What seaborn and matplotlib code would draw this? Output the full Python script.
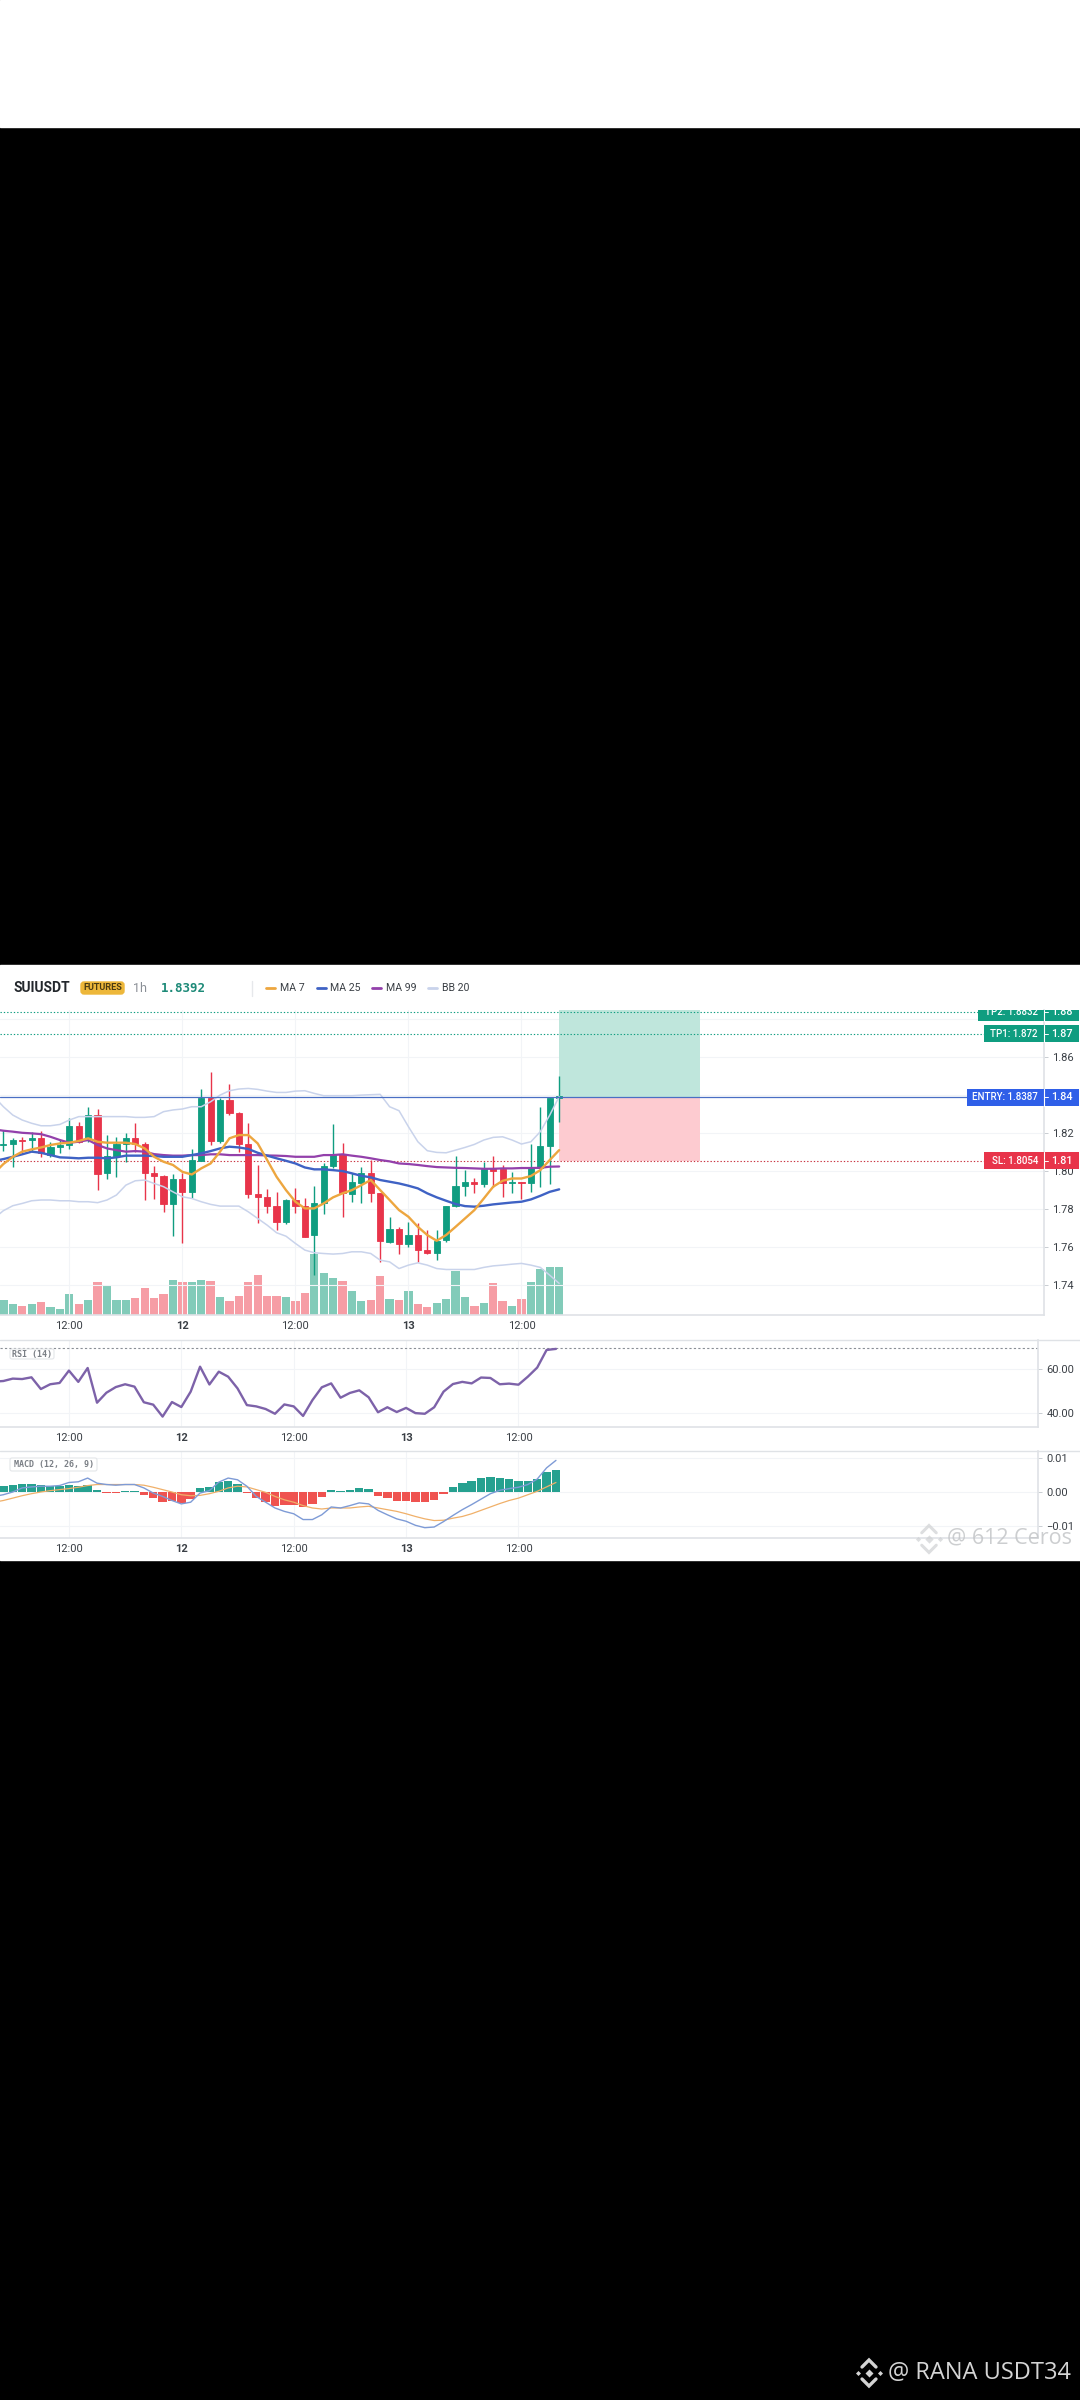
import numpy as np
import seaborn as sns
import matplotlib
matplotlib.use('Agg')
import matplotlib.pyplot as plt
from matplotlib.patches import Rectangle, FancyBboxPatch
from matplotlib.transforms import Bbox

# Values (hourly candles, SUIUSDT)
hours = np.arange(60)
line_hours = np.arange(-1, 60)

opens = [1.8134, 1.8141, 1.8162, 1.8160, 1.8171, 1.8083, 1.8123, 1.8134, 1.8237, 1.8171,
         1.8292, 1.7987, 1.8078, 1.8141, 1.8171, 1.8141, 1.7987, 1.7973, 1.7824, 1.7955,
         1.7890, 1.8053, 1.8383, 1.8157, 1.8372, 1.8306, 1.8141, 1.7876, 1.7864, 1.7815,
         1.7733, 1.7847, 1.7815, 1.7663, 1.7829, 1.8025, 1.8087, 1.7876, 1.7938, 1.7987,
         1.7882, 1.7628, 1.7696, 1.7614, 1.7663, 1.7584, 1.7571, 1.7636, 1.7815, 1.7920,
         1.7943, 1.7931, 1.8013, 1.8009, 1.7938, 1.7943, 1.7934, 1.8013, 1.8130, 1.8383]
closes = [1.8141, 1.8160, 1.8157, 1.8171, 1.8095, 1.8123, 1.8134, 1.8237, 1.8153, 1.8292,
          1.7983, 1.8080, 1.8141, 1.8171, 1.8141, 1.7987, 1.7973, 1.7824, 1.7955, 1.7889,
          1.8057, 1.8383, 1.8157, 1.8372, 1.8302, 1.8141, 1.7876, 1.7861, 1.7815, 1.7733,
          1.7847, 1.7815, 1.7654, 1.7829, 1.8027, 1.8087, 1.7882, 1.7939, 1.7987, 1.7882,
          1.7633, 1.7696, 1.7614, 1.7663, 1.7584, 1.7570, 1.7633, 1.7815, 1.7920, 1.7943,
          1.7931, 1.8009, 1.8001, 1.7938, 1.7943, 1.7934, 1.8013, 1.8130, 1.8381, 1.8395]
highs = [1.8214, 1.8171, 1.8179, 1.8206, 1.8211, 1.8153, 1.8162, 1.8276, 1.8255, 1.8337,
         1.8323, 1.8188, 1.8179, 1.8200, 1.8250, 1.8153, 1.8025, 1.7978, 1.7983, 1.7987,
         1.8115, 1.8428, 1.8521, 1.8381, 1.8456, 1.8311, 1.8253, 1.8031, 1.7903, 1.7887,
         1.7850, 1.7908, 1.7855, 1.7920, 1.8039, 1.8244, 1.8144, 1.7987, 1.8022, 1.8057,
         1.7882, 1.7759, 1.7706, 1.7733, 1.7724, 1.7689, 1.7689, 1.7815, 1.8078, 1.8004,
         1.7960, 1.8048, 1.8078, 1.8031, 1.7995, 1.7943, 1.8139, 1.8337, 1.8381, 1.8498]
lows = [1.8106, 1.8022, 1.8095, 1.8101, 1.8074, 1.8074, 1.8095, 1.8115, 1.8144, 1.8153,
        1.7899, 1.7957, 1.7966, 1.8045, 1.8101, 1.7847, 1.7850, 1.7785, 1.7659, 1.7619,
        1.7855, 1.8053, 1.8136, 1.8144, 1.8293, 1.8101, 1.7855, 1.7724, 1.7780, 1.7689,
        1.7719, 1.7780, 1.7654, 1.7452, 1.7773, 1.8013, 1.7759, 1.7838, 1.7829, 1.7838,
        1.7522, 1.7622, 1.7563, 1.7598, 1.7522, 1.7563, 1.7531, 1.7628, 1.7808, 1.7869,
        1.7882, 1.7913, 1.7917, 1.7861, 1.7885, 1.7850, 1.7890, 1.7917, 1.7929, 1.8258]
volume = [44, 34, 28, 33, 39, 25, 17, 64, 34, 45, 99, 88, 46, 46, 50, 80, 52, 63, 105, 99,
          99, 105, 102, 55, 41, 58, 99, 121, 58, 58, 55, 41, 66, 184, 126, 110, 101, 72, 41, 46,
          117, 49, 45, 72, 33, 24, 36, 49, 131, 55, 28, 36, 97, 42, 28, 49, 99, 137, 145, 143]

ma7 = [1.7987, 1.8036, 1.8074, 1.8101, 1.8113, 1.8123, 1.8136, 1.8144, 1.8148, 1.8157, 1.8171,
       1.8153, 1.8148, 1.8148, 1.8148, 1.8141, 1.8118, 1.8074, 1.8048, 1.8031, 1.7995,
       1.7981, 1.8013, 1.8039, 1.8101, 1.8171, 1.8188, 1.8188, 1.8144, 1.8057, 1.7969,
       1.7899, 1.7838, 1.7803, 1.7803, 1.7829, 1.7861, 1.7882, 1.7899, 1.7925, 1.7952,
       1.7899, 1.7847, 1.7794, 1.7759, 1.7706, 1.7663, 1.7633, 1.7663, 1.7706, 1.7750,
       1.7794, 1.7855, 1.7917, 1.7948, 1.7960, 1.7960, 1.7973, 1.8004, 1.8057, 1.8109]
ma25 = [1.8052, 1.8062, 1.8074, 1.8087, 1.8101, 1.8095, 1.8083, 1.8071, 1.8069, 1.8066, 1.8069,
        1.8069, 1.8066, 1.8071, 1.8080, 1.8080, 1.8080, 1.8078, 1.8074, 1.8074, 1.8074,
        1.8083, 1.8092, 1.8104, 1.8118, 1.8127, 1.8123, 1.8115, 1.8095, 1.8080, 1.8066,
        1.8053, 1.8039, 1.8018, 1.8008, 1.8008, 1.8004, 1.7999, 1.7987, 1.7974, 1.7966,
        1.7952, 1.7943, 1.7934, 1.7922, 1.7908, 1.7882, 1.7861, 1.7843, 1.7826, 1.7815,
        1.7812, 1.7817, 1.7824, 1.7829, 1.7834, 1.7838, 1.7850, 1.7869, 1.7890, 1.7903]
ma99 = [1.8218, 1.8211, 1.8206, 1.8200, 1.8197, 1.8193, 1.8179, 1.8162, 1.8148, 1.8153, 1.8162,
        1.8136, 1.8118, 1.8109, 1.8101, 1.8104, 1.8101, 1.8088, 1.8083, 1.8080, 1.8080,
        1.8083, 1.8083, 1.8087, 1.8087, 1.8083, 1.8083, 1.8083, 1.8083, 1.8081, 1.8080,
        1.8078, 1.8074, 1.8074, 1.8074, 1.8083, 1.8083, 1.8087, 1.8080, 1.8074, 1.8066,
        1.8057, 1.8050, 1.8039, 1.8036, 1.8031, 1.8025, 1.8020, 1.8018, 1.8016, 1.8015,
        1.8013, 1.8011, 1.8011, 1.8013, 1.8013, 1.8015, 1.8015, 1.8016, 1.8022, 1.8023]
bb_upper = [1.8390, 1.8337, 1.8293, 1.8267, 1.8250, 1.8237, 1.8237, 1.8244, 1.8267, 1.8285, 1.8285,
            1.8285, 1.8285, 1.8285, 1.8285, 1.8281, 1.8281, 1.8285, 1.8311, 1.8320, 1.8325,
            1.8337, 1.8337, 1.8363, 1.8398, 1.8421, 1.8430, 1.8433, 1.8428, 1.8419, 1.8412,
            1.8412, 1.8419, 1.8421, 1.8407, 1.8395, 1.8395, 1.8395, 1.8395, 1.8398, 1.8400,
            1.8402, 1.8337, 1.8316, 1.8232, 1.8153, 1.8106, 1.8097, 1.8095, 1.8109, 1.8123,
            1.8139, 1.8162, 1.8176, 1.8179, 1.8162, 1.8141, 1.8153, 1.8206, 1.8293, 1.8390]
bb_lower = [1.7750, 1.7791, 1.7817, 1.7829, 1.7843, 1.7847, 1.7847, 1.7843, 1.7843, 1.7838, 1.7838,
            1.7833, 1.7847, 1.7873, 1.7925, 1.7948, 1.7952, 1.7934, 1.7917, 1.7890, 1.7864,
            1.7855, 1.7838, 1.7824, 1.7815, 1.7815, 1.7815, 1.7785, 1.7750, 1.7715, 1.7675,
            1.7657, 1.7619, 1.7584, 1.7570, 1.7566, 1.7563, 1.7566, 1.7575, 1.7575, 1.7566,
            1.7531, 1.7522, 1.7487, 1.7505, 1.7517, 1.7505, 1.7487, 1.7482, 1.7482, 1.7482,
            1.7482, 1.7493, 1.7501, 1.7505, 1.7510, 1.7514, 1.7505, 1.7493, 1.7452, 1.7409]

rsi = [54.3, 54.6, 55.7, 55.5, 56.3, 50.9, 53.1, 53.7, 59.4, 54.2, 60.6,
       44.6, 49.2, 51.8, 53.1, 52.0, 44.8, 43.7, 38.2, 44.9, 42.6,
       49.7, 61.2, 53.0, 58.9, 56.6, 51.2, 43.5, 42.9, 41.7, 39.5,
       43.8, 42.9, 38.5, 45.8, 51.7, 53.5, 46.9, 49.1, 50.3, 47.1,
       40.2, 42.5, 40.3, 42.2, 39.8, 39.5, 42.5, 49.7, 53.2, 54.2,
       53.5, 56.2, 56.0, 53.1, 53.4, 52.9, 56.6, 60.8, 68.9, 69.4]

macd_hist = [.0017, .0022, .0025, .0025, .0020, .0019, .0019, .0020, .0017, .0022,
             .0007, -.0002, -.0002, .0004, .0004, -.0010, -.0017, -.0030, -.0027, -.0031,
             -.0020, .0012, .0014, .0029, .0033, .0025, -.0002, -.0018, -.0030, -.0042,
             -.0038, -.0039, -.0044, -.0035, -.0015, .0007, .0003, .0007, .0012, .0010,
             -.0013, -.0018, -.0026, -.0026, -.0028, -.0028, -.0023, -.0007, .0015, .0027,
             .0033, .0041, .0044, .0041, .0038, .0033, .0033, .0039, .0058, .0066]
macd_line = [-.0013, -.0008, .0000, .0012, .0015, .0017, .0017, .0019, .0028, .0030, .0041,
             .0026, .0022, .0020, .0022, .0022, .0012, -.0003, -.0013, -.0025, -.0035,
             -.0030, -.0003, .0004, .0029, .0041, .0036, .0017, -.0013, -.0030, -.0047,
             -.0057, -.0064, -.0081, -.0081, -.0067, -.0044, -.0047, -.0040, -.0032, -.0035,
             -.0054, -.0067, -.0079, -.0086, -.0098, -.0105, -.0103, -.0087, -.0069, -.0052,
             -.0037, -.0021, -.0005, .0005, .0010, .0014, .0022, .0038, .0071, .0093]
macd_signal = [-.0030, -.0025, -.0018, -.0011, -.0005, .0000, .0004, .0007, .0010, .0014, .0019,
               .0022, .0022, .0022, .0022, .0022, .0020, .0014, .0007, .0000, -.0008,
               -.0011, -.0010, -.0005, .0002, .0012, .0017, .0015, .0007, -.0001, -.0013,
               -.0023, -.0030, -.0040, -.0047, -.0050, -.0047, -.0047, -.0047, -.0044, -.0042,
               -.0047, -.0052, -.0057, -.0064, -.0072, -.0079, -.0084, -.0083, -.0077, -.0072,
               -.0064, -.0054, -.0044, -.0034, -.0025, -.0018, -.0008, .0002, .0015, .0028]

tick_hours = [7, 19, 31, 43, 55]
tick_labels = ['12:00', '12', '12:00', '13', '12:00']
price_ticks = [1.74, 1.76, 1.78, 1.80, 1.82, 1.84, 1.86, 1.88]
price_tick_labels = ['1.74', '1.76', '1.78', '1.80', '1.82', '', '1.86', '']
rsi_ticks = [40, 60]
rsi_tick_labels = ['40.00', '60.00']
macd_ticks = [-0.01, 0.0, 0.01]
macd_tick_labels = ['\u22120.01', '0.00', '0.01']

entry, sl, tp1, tp2 = 1.8387, 1.8054, 1.872, 1.8832
box_hours = [59, 74]
tag_texts = ['TP2: 1.8832', 'TP1: 1.872', 'ENTRY: 1.8387', 'SL: 1.8054']
tag_axis = ['1.88', '1.87', '1.84', '1.81']
tag_prices = [tp2, tp1, entry, sl]

GREEN, RED, BLUE = '#0F9D80', '#E8344A', '#2F5FE8'
VOL_COLORS = {'up': '#82CBB9', 'down': '#F69DA5'}
HIST_COLORS = {'up': '#26A190', 'down': '#EF5350'}
ORANGE, MID_BLUE, PURPLE, BB_BLUE = '#EDA63F', '#3F62C4', '#9340AB', '#C9D3EB'
GREY_LINE = '#DFE2E6'
GRID = '#F2F4F7'
TEXT = '#3A3F45'

sns.set_theme(style='white')
plt.rcParams['font.family'] = ['Roboto', 'DejaVu Sans']

W, H = 1080, 2400
fig = plt.figure(figsize=(W / 100, H / 100), dpi=100, facecolor='black')


def panel(right, top, bottom):
    return fig.add_axes([0, 1 - bottom / H, right / W, (bottom - top) / H])


# white screenshot bands behind the axes
fig.add_artist(Rectangle((0, 1 - 127 / H), 1, 127 / H, transform=fig.transFigure,
                         color='white', zorder=-1))
fig.add_artist(Rectangle((0, 1 - 1560 / H), 1, 595 / H, transform=fig.transFigure,
                         color='white', zorder=-1))

ax = panel(1044, 1010, 1315)
vol_ax = ax.twinx()
rsi_ax = panel(1038, 1340, 1427)
macd_ax = panel(1038, 1451, 1538)

# volume under the candles
up = [c >= o for o, c in zip(opens, closes)]
sns.barplot(x=hours, y=volume, hue=['up' if u else 'down' for u in up], palette=VOL_COLORS,
            native_scale=True, dodge=False, width=0.88, saturation=1, errorbar=None,
            legend=False, linewidth=0, ax=vol_ax)
vol_ax.set_ylim(0, 915)
vol_ax.set_yticks([])
vol_ax.set_zorder(1)
ax.set_zorder(2)
ax.patch.set_visible(False)

# position box
box_top = 1.8845
ax.fill_between(box_hours, entry, box_top, color='#BFE6DC', lw=0, zorder=1)
ax.fill_between(box_hours, sl, entry, color='#FDCBD0', lw=0, zorder=1)

# candles
colors = [GREEN if u else RED for u in up]
ax.vlines(hours, lows, highs, colors=colors, lw=1.0, zorder=3)
ax.bar(hours, np.array(closes) - np.array(opens), bottom=opens, width=0.66,
       color=colors, edgecolor=colors, lw=0.6, zorder=3)

# moving averages and bands
for values, col, lw in [(bb_upper, BB_BLUE, 1.1), (bb_lower, BB_BLUE, 1.1),
                        (ma99, PURPLE, 1.6), (ma25, MID_BLUE, 1.7), (ma7, ORANGE, 1.7)]:
    sns.lineplot(x=line_hours, y=values, color=col, lw=lw, errorbar=None, ax=ax, zorder=4)

# trade levels
ax.axhline(tp2, color=GREEN, lw=0.8, ls=(0, (1.2, 1.8)), zorder=2)
ax.axhline(tp1, color=GREEN, lw=0.8, ls=(0, (1.2, 1.8)), zorder=2)
ax.axhline(sl, color='#C8323F', lw=0.8, ls=(0, (1.2, 1.8)), zorder=2)
ax.axhline(entry, color='#4A6FC4', lw=0.9, zorder=5)

# RSI
rsi_ax.axhline(70, color='#8A8F96', lw=0.8, ls=(0, (2, 2)))
sns.lineplot(x=line_hours, y=rsi, color='#7D62A9', lw=1.7, errorbar=None, ax=rsi_ax)

# MACD
sns.barplot(x=hours, y=macd_hist, hue=['up' if v >= 0 else 'down' for v in macd_hist],
            palette=HIST_COLORS, native_scale=True, dodge=False, width=0.9, saturation=1,
            errorbar=None, legend=False, linewidth=0, ax=macd_ax)
sns.lineplot(x=line_hours, y=macd_signal, color='#F0B069', lw=0.9, errorbar=None, ax=macd_ax)
sns.lineplot(x=line_hours, y=macd_line, color='#7E9BD6', lw=1.0, errorbar=None, ax=macd_ax)

# axis set up shared by the three panels
limits = [(ax, (1.7243, 1.8845), price_ticks, price_tick_labels),
          (rsi_ax, (33.4, 73.5), rsi_ticks, rsi_tick_labels),
          (macd_ax, (-0.01353, 0.01206), macd_ticks, macd_tick_labels)]
for a, ylim, ticks, labels in limits:
    a.set_xlim(-0.36, 110.47)
    a.set_ylim(*ylim)
    a.set_xlabel('')
    a.set_ylabel('')
    a.yaxis.tick_right()
    a.set_yticks(ticks)
    a.set_yticklabels(labels)
    a.set_xticks(tick_hours)
    a.set_xticklabels(tick_labels)
    a.grid(True, color=GRID, lw=0.8)
    a.set_axisbelow(True)
    a.tick_params(axis='y', length=3, width=0.7, color='#C9CDD2', pad=3, labelsize=8, labelcolor=TEXT)
    a.tick_params(axis='x', length=0, pad=4.5, labelsize=8, labelcolor=TEXT)
    for lab, name in zip(a.get_xticklabels(), tick_labels):
        if ':' not in name:
            lab.set_fontweight('bold')
    for side in ['top', 'left']:
        a.spines[side].set_visible(False)
    for side in ['right', 'bottom']:
        a.spines[side].set_color(GREY_LINE)
        a.spines[side].set_linewidth(1.2)
for side in vol_ax.spines:
    vol_ax.spines[side].set_visible(False)
vol_ax.set_xlabel('')
vol_ax.set_ylabel('')
rsi_ax.patch.set_visible(False)
macd_ax.patch.set_visible(False)

# overlay in screen pixels for header, tags and watermarks
ov = fig.add_axes([0, 0, 1, 1], zorder=10)
ov.set_xlim(0, W)
ov.set_ylim(H, 0)
ov.set_axis_off()

for y in [1340, 1451]:
    ov.plot([0, W], [y, y], color=GREY_LINE, lw=1.0)

# header
ov.text(14, 988, 'SUIUSDT', fontsize=10, fontweight='bold', color='#23272C', va='center')
ov.add_patch(FancyBboxPatch((81, 982), 43, 12, boxstyle='round,pad=0,rounding_size=3',
                            fc='#EDB73A', ec='#EDB73A', lw=1))
ov.text(102.5, 988, 'FUTURES', fontsize=6.6, fontweight='bold', color='#4A3B12',
        ha='center', va='center')
ov.text(133, 988, '1h', fontsize=9, color='#8A8F96', va='center')
ov.text(161, 988, '1.8392', fontsize=9, fontweight='bold', color='#1D8A78', va='center',
        family=['DejaVu Sans Mono'])
ov.plot([252, 252], [981, 996], color='#E6E8EB', lw=1)
legend_items = [('MA 7', ORANGE, 266), ('MA 25', MID_BLUE, 317),
                ('MA 99', PURPLE, 372), ('BB 20', BB_BLUE, 428)]
for name, col, x in legend_items:
    ov.plot([x, x + 9], [988, 988], color=col, lw=2, solid_capstyle='round')
    ov.text(x + 13.5, 988, name, fontsize=7.6, color=TEXT, va='center')

# price tags at the right edge
clip = Bbox([[0, H - 1560], [W, H - 1010]])
tag_lefts = {'TP2': 978, 'TP1': 983.5, 'ENTRY': 967, 'SL': 984}
tag_cols = [GREEN, GREEN, BLUE, RED]
for text, axis_text, price, col in zip(tag_texts, tag_axis, tag_prices, tag_cols):
    yc = H - ax.transData.transform((0, price))[1]
    left = tag_lefts[text.split(':')[0]]
    top = max(yc - 8.5, 1010)
    ov.add_patch(Rectangle((left, top), 1079 - left, yc + 8.5 - top, fc=col, ec='none', zorder=5))
    ov.plot([1044, 1044], [top, yc + 8.5], color='white', lw=0.8, zorder=6)
    ov.plot([1044, 1048], [yc, yc], color='white', lw=0.7, zorder=6)
    for t in [ov.text(1038, yc, text, fontsize=7, fontweight='medium', color='white',
                      ha='right', va='center', zorder=7),
              ov.text(1061.5, yc, axis_text, fontsize=7.8, fontweight='medium', color='white',
                      ha='center', va='center', zorder=7)]:
        t.set_clip_box(clip)
        t.set_clip_on(True)

# indicator name boxes
for label, x0, x1, y0, y1 in [('RSI (14)', 10, 54, 1349, 1359), ('MACD (12, 26, 9)', 10, 97, 1458, 1471)]:
    ov.add_patch(FancyBboxPatch((x0, y0), x1 - x0, y1 - y0, boxstyle='round,pad=0,rounding_size=2',
                                fc='white', ec='#E4E6E9', lw=0.8))
    ov.text((x0 + x1) / 2, (y0 + y1) / 2, label, fontsize=6, fontweight='bold', color='#7A7F85',
            ha='center', va='center', family=['DejaVu Sans Mono'])


def binance_logo(x, y, col, half, alpha=1.0, lw=2.4):
    k = half / 13.5
    ov.scatter([x], [y], marker='D', s=16.6 * k ** 2, color=col, alpha=alpha, lw=0)
    ov.scatter([x - 11 * k, x + 11 * k], [y, y], marker='D', s=6.5 * k ** 2, color=col, alpha=alpha, lw=0)
    for sign in [-1, 1]:
        ov.plot([x - 7 * k, x, x + 7 * k], [y + sign * 6 * k, y + sign * 13 * k, y + sign * 6 * k],
                color=col, alpha=alpha, lw=lw, solid_joinstyle='miter')


# watermarks
binance_logo(929, 1539, '#CFD1D3', 14, alpha=0.7, lw=2.2)
ov.text(947, 1538, '@ 612 Ceros', fontsize=15.5, color='#C4C6C8', alpha=0.85, va='center',
        family=['Open Sans'])
binance_logo(869, 2373, '#D4D4D4', 13.5)
ov.text(888, 2373, '@ RANA USDT34', fontsize=17, color='#D4D4D4', va='center', family=['Open Sans'])

fig.savefig('out.png', dpi=100, facecolor=fig.get_facecolor())
